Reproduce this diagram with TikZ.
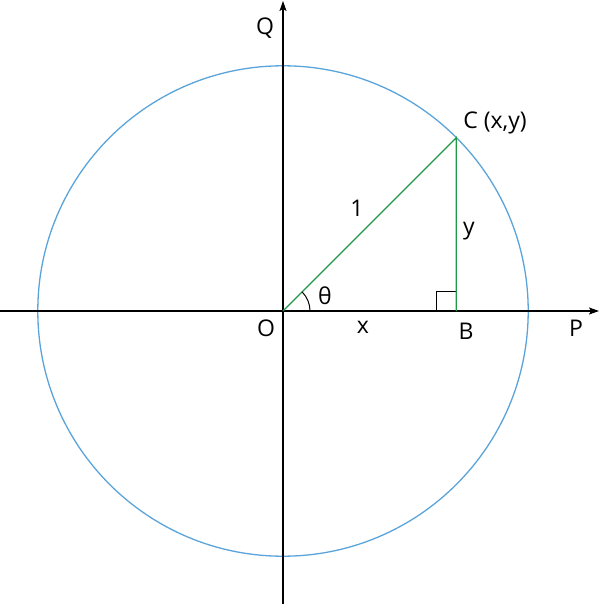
\documentclass[tikz,border=0pt]{standalone}
\usepackage{fontspec}
\setmainfont{Open Sans}
\usetikzlibrary{arrows.meta}
\definecolor{circblue}{RGB}{90,164,218}
\definecolor{lgreen}{RGB}{30,154,70}
\tikzset{
  axis/.style={line width=1.2pt, -{Stealth[length=10pt,width=7pt,inset=2pt]}},
  lbl/.style={font=\fontsize{23}{27}\selectfont, inner sep=0pt}
}
\begin{document}
\begin{tikzpicture}[x=1pt,y=1pt,yscale=-1,xscale=1]
\useasboundingbox (0,0) rectangle (600,604);

% points
\coordinate (O) at (283,311);
\coordinate (C) at (456.2,137.8);
\coordinate (B) at (456.2,311);
\coordinate (west) at (0,311);
\coordinate (east) at (599,311);
\coordinate (south) at (283,604);
\coordinate (north) at (283,1);

\draw [color=circblue, line width=1.3pt] (O) circle [radius=245.2];
\draw [axis] (west) -- (east);
\draw [axis] (south) -- (north);

\draw [line width=1pt] (436,311) -- (436,291) -- (456.2,291);
\draw [color=lgreen, line width=1.4pt] (O) -- (C) -- (B);
\draw [line width=1pt] (310,311) arc [start angle=0, end angle=-45, radius=27];

\draw (265,28) node [lbl] (lQ) {Q};
\draw (576,328) node [lbl] (lP) {P};
\draw (266,328) node [lbl] (lO) {O};
\draw (466,331) node [lbl] (lB) {B};
\draw (363,327) node [lbl] (lx) {x};
\draw (469,231) node [lbl] (ly) {y};
\draw (357,208) node [lbl] (l1) {1};
\draw (325,296) node [lbl] (lth) {θ};
\draw (495,123) node [lbl] (lC) {C (x,y)};

\end{tikzpicture}
\end{document}
